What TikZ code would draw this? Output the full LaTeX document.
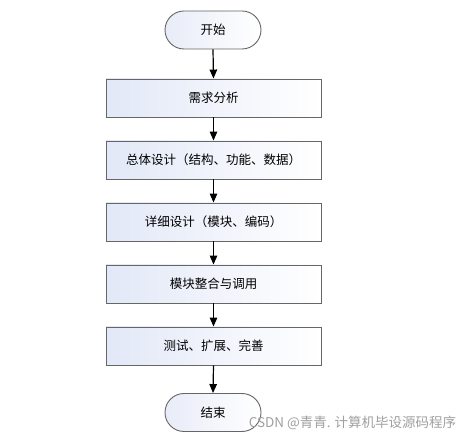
\documentclass[tikz,border=0pt]{standalone}
\usepackage{fontspec}
\setmainfont{Noto Sans CJK SC}
\usetikzlibrary{arrows.meta}
\definecolor{boxleft}{RGB}{226,232,247}
\definecolor{termleft}{RGB}{232,236,248}
\definecolor{wmgray}{RGB}{160,160,160}
\tikzset{
  x=1pt,y=1pt,
  stepbox/.style={draw=black!60, line width=0.9pt, left color=boxleft, right color=white,
    minimum width=215pt, minimum height=38pt, inner sep=0pt, font=\fontsize{12.5}{14}\selectfont},
  termbox/.style={draw=black!60, line width=0.9pt, left color=termleft, right color=white,
    rounded corners=19pt, minimum width=96pt, minimum height=38pt, inner sep=0pt,
    font=\fontsize{12.5}{14}\selectfont},
  flowarrow/.style={draw=black, line width=1.2pt, -{Triangle[length=9pt,width=7.5pt]}},
}
\begin{document}
\begin{tikzpicture}
\useasboundingbox (0,0) rectangle (474,439);
\fill[white] (0,0) rectangle (474,439);
\node[termbox] (start) at (213,409) {开始};
\node[stepbox] (s1) at (213.5,341) {需求分析};
\node[stepbox] (s2) at (213.5,279) {总体设计（结构、功能、数据）};
\node[stepbox] (s3) at (213.5,217) {详细设计（模块、编码）};
\node[stepbox] (s4) at (213.5,155) {模块整合与调用};
\node[stepbox] (s5) at (213.5,93) {测试、扩展、完善};
\node[termbox] (end) at (213,26.5) {结束};
\draw[flowarrow] (start.south) -- (s1.north);
\draw[flowarrow] (s1.south) -- (s2.north);
\draw[flowarrow] (s2.south) -- (s3.north);
\draw[flowarrow] (s3.south) -- (s4.north);
\draw[flowarrow] (s4.south) -- (s5.north);
\draw[flowarrow] (s5.south) -- (end.north);
\node[text=wmgray, font=\fontsize{13.5}{15}\selectfont, inner sep=0pt] (wm) at (352.5,16) {CSDN @青青. 计算机毕设源码程序};
\end{tikzpicture}
\end{document}
